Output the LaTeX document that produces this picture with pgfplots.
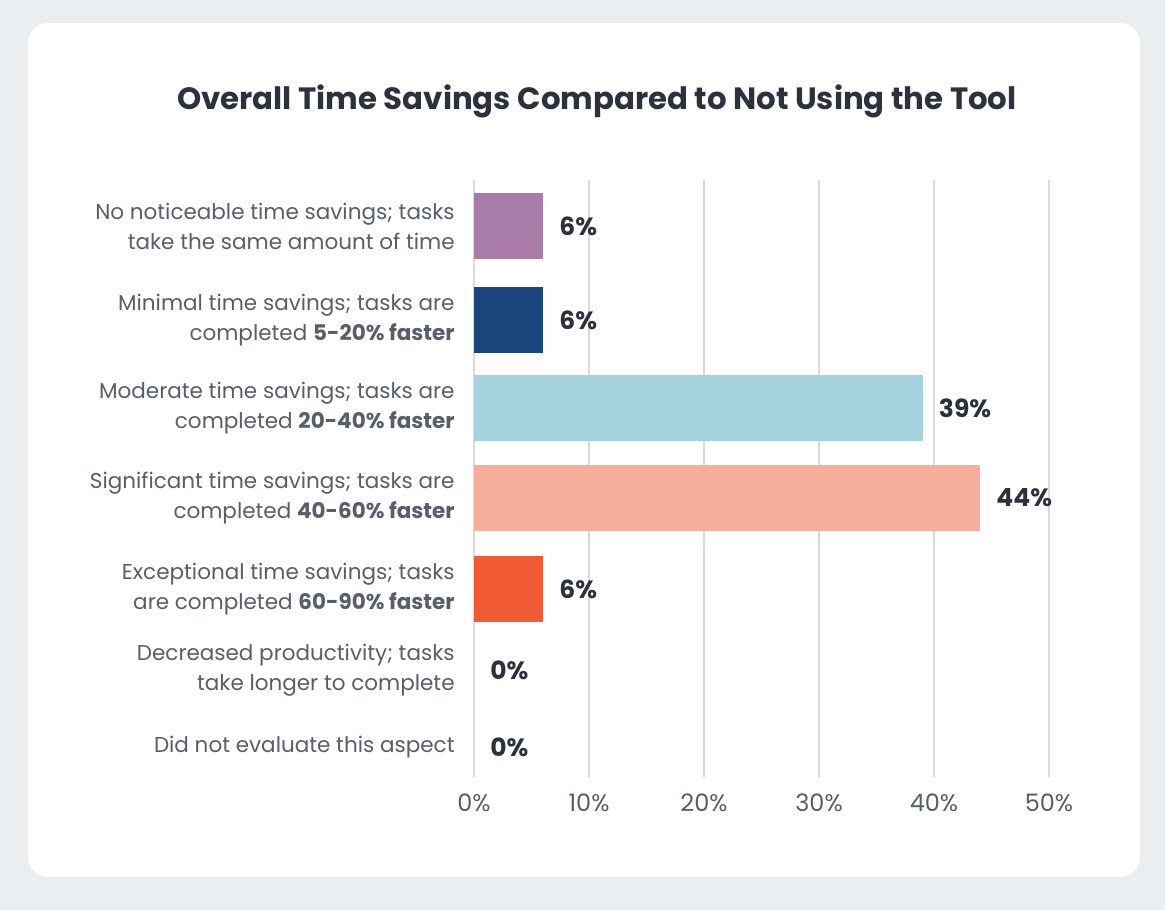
\documentclass[border=0pt]{standalone}
\usepackage{fontspec}
\setmainfont{Poppins}
\usepackage{pgfplots}
\pgfplotsset{compat=1.18}
\definecolor{bgc}{HTML}{EBEEF0}
\definecolor{titlec}{HTML}{2B323D}
\definecolor{labc}{HTML}{575E6C}
\definecolor{gridc}{HTML}{DADADA}
\definecolor{c1}{HTML}{A87BA8}
\definecolor{c2}{HTML}{1B457C}
\definecolor{c3}{HTML}{A4D3DF}
\definecolor{c4}{HTML}{F8AE9C}
\definecolor{c5}{HTML}{F05A35}
\begin{document}
\begin{tikzpicture}[x=0.5pt,y=-0.5pt]
\fill[bgc] (0,0) rectangle (1165,910);
\fill[white, rounded corners=10pt] (28,23) rectangle (1140,877);
\node[font=\bfseries\fontsize{15.4}{18}\selectfont, text=titlec] at (597,101)
  {Overall Time Savings Compared to Not Using the Tool};
\begin{axis}[
  at={(237pt,-388.5pt)}, anchor=south west,
  scale only axis, width=287.5pt, height=298.5pt,
  xmin=0, xmax=50, ymin=180, ymax=777, y dir=reverse,
  xbar, bar shift=0pt, bar width=66,
  axis line style={draw=none},
  major tick length=0pt,
  xmajorgrids, grid style={gridc, line width=1pt},
  xtick={0,10,20,30,40,50},
  xticklabels={0\%,10\%,20\%,30\%,40\%,50\%},
  ytick={226,320,408,498,589,670,747},
  yticklabels={
    {No noticeable time savings; tasks\\take the same amount of time},
    {Minimal time savings; tasks are\\completed \textbf{5-20\% faster}},
    {Moderate time savings; tasks are\\completed \textbf{20-40\% faster}},
    {Significant time savings; tasks are\\completed \textbf{40-60\% faster}},
    {Exceptional time savings; tasks\\are completed \textbf{60-90\% faster}},
    {Decreased productivity; tasks\\take longer to complete},
    {Did not evaluate this aspect}},
  yticklabel style={text=labc, font=\fontsize{10.75}{15}\selectfont,
    align=right, inner sep=0pt, xshift=-9.5pt},
  xticklabel style={text=labc, font=\fontsize{12}{14}\selectfont,
    inner sep=0pt, yshift=-8pt},
  nodes near coords={\pgfmathprintnumber[assume math mode=true]\pgfplotspointmeta\%},
  nodes near coords style={anchor=west, inner sep=0pt, xshift=8pt,
    text=titlec, font=\bfseries\fontsize{12.5}{14}\selectfont},
]
\addplot[fill=c1, draw=none] coordinates {(6,226)};
\addplot[fill=c2, draw=none] coordinates {(6,320)};
\addplot[fill=c3, draw=none] coordinates {(39,408)};
\addplot[fill=c4, draw=none] coordinates {(44,498)};
\addplot[fill=c5, draw=none] coordinates {(6,589)};
\addplot[fill=none, draw=none] coordinates {(0,670)};
\addplot[fill=none, draw=none] coordinates {(0,747)};
\end{axis}
\end{tikzpicture}
\end{document}
